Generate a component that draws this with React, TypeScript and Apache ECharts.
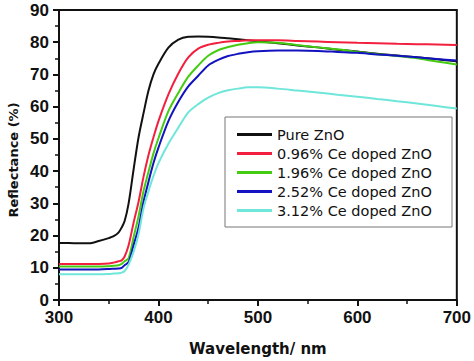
import React, { useEffect, useRef } from "react";
import * as echarts from "echarts";

const wavelengths = [300, 310, 320, 330, 340, 350, 355, 360, 363, 366, 370, 375, 380, 385, 390, 395, 400, 410, 420, 430, 440, 450, 460, 470, 480, 490, 500, 520, 540, 560, 580, 600, 620, 640, 660, 680, 700];

const pureZnO = [17.7, 17.7, 17.6, 17.6, 18.3, 19.2, 19.8, 21.0, 22.5, 24.5, 30.0, 40.5, 50.5, 58.0, 65.0, 70.0, 73.3, 78.3, 80.8, 81.7, 81.8, 81.7, 81.5, 81.2, 80.9, 80.6, 80.3, 79.7, 79.0, 78.4, 77.7, 77.1, 76.4, 75.9, 75.3, 74.7, 74.1];
const ce096 = [11.2, 11.2, 11.2, 11.2, 11.2, 11.3, 11.6, 12.0, 12.3, 13.5, 17.0, 24.0, 30.5, 38.3, 45.0, 50.5, 55.5, 63.8, 70.3, 75.3, 78.0, 79.2, 79.8, 80.2, 80.4, 80.6, 80.6, 80.6, 80.4, 80.2, 80.0, 79.8, 79.7, 79.5, 79.4, 79.3, 79.1];
const ce196 = [10.4, 10.4, 10.4, 10.4, 10.4, 10.5, 10.6, 10.8, 11.2, 12.0, 13.0, 19.5, 26.0, 33.8, 39.8, 45.5, 50.2, 58.6, 64.3, 69.3, 72.8, 75.8, 77.5, 78.5, 79.2, 79.7, 80.0, 79.8, 79.1, 78.4, 77.8, 77.0, 76.3, 75.7, 75.0, 74.0, 73.1];
const ce252 = [9.5, 9.5, 9.5, 9.5, 9.5, 9.6, 9.7, 9.8, 10.0, 10.8, 11.8, 17.0, 22.5, 30.5, 36.7, 42.5, 47.3, 55.5, 61.5, 66.3, 69.6, 72.8, 74.5, 75.7, 76.4, 76.9, 77.2, 77.4, 77.4, 77.3, 77.0, 76.7, 76.2, 75.8, 75.3, 74.8, 74.3];
const ce312 = [8.0, 8.0, 8.0, 8.0, 8.0, 8.1, 8.2, 8.3, 8.5, 9.0, 11.0, 15.0, 20.5, 28.5, 33.8, 38.5, 42.5, 48.5, 53.5, 58.2, 60.8, 62.8, 64.2, 65.1, 65.6, 66.0, 66.0, 65.6, 65.0, 64.4, 63.7, 63.1, 62.4, 61.7, 61.0, 60.2, 59.4];

const seriesNames = ["Pure ZnO", "0.96% Ce doped ZnO", "1.96% Ce doped ZnO", "2.52% Ce doped ZnO", "3.12% Ce doped ZnO"];
const seriesValues = [pureZnO, ce096, ce196, ce252, ce312];
const seriesColors = ["#111111", "#f2203e", "#44cc11", "#1212c0", "#6fe6da"];

const xTicks = [300, 400, 500, 600, 700];
const yTicks = [0, 10, 20, 30, 40, 50, 60, 70, 80, 90];

export default function App() {
  const ref = useRef<HTMLDivElement>(null);
  useEffect(() => {
    if (!ref.current) return;
    const chart = echarts.init(ref.current, undefined, { renderer: "svg" });
    const axisCommon = {
      axisLine: { show: true, onZero: false, lineStyle: { color: "#111", width: 2 } },
      axisTick: { show: true, inside: false, length: 6, lineStyle: { color: "#111", width: 2 } },
      minorTick: { show: true, splitNumber: 2, length: 4, lineStyle: { color: "#111", width: 1.5 } },
      splitLine: { show: false },
      axisLabel: {
        color: "#111",
        fontFamily: "Liberation Sans, Arial, sans-serif",
        fontWeight: "bold",
        fontSize: 17,
      },
    };
    chart.setOption({
      animation: false,
      backgroundColor: "#fff",
      grid: {
        left: 59,
        top: 10,
        right: 16,
        bottom: 58,
        show: true,
        borderColor: "#111",
        borderWidth: 2,
        containLabel: false,
      },
      xAxis: {
        type: "value",
        min: xTicks[0],
        max: xTicks[xTicks.length - 1],
        interval: 100,
        ...axisCommon,
        axisLabel: { ...axisCommon.axisLabel, margin: 9 },
        name: "Wavelength/ nm",
        nameLocation: "middle",
        nameGap: 41,
        nameTextStyle: {
          color: "#111",
          fontFamily: "DejaVu Sans, sans-serif",
          fontWeight: "bold",
          fontSize: 15,
          verticalAlign: "top",
        },
      },
      yAxis: {
        type: "value",
        min: yTicks[0],
        max: yTicks[yTicks.length - 1],
        interval: 10,
        ...axisCommon,
        axisLabel: { ...axisCommon.axisLabel, margin: 10 },
      },
      legend: {
        orient: "vertical",
        left: 225,
        top: 117,
        padding: [8, 14, 8, 12],
        itemGap: 0,
        itemWidth: 35,
        itemHeight: 3,
        icon: "rect",
        data: seriesNames,
        textStyle: {
          color: "#111",
          fontFamily: "DejaVu Sans, sans-serif",
          fontSize: 14.5,
          lineHeight: 19,
        },
      },
      graphic: [
        {
          type: "rect",
          shape: { x: 225, y: 117, width: 227, height: 110 },
          style: { fill: "none", stroke: "#777", lineWidth: 1 },
          z: 10,
        },
        {
          type: "text",
          x: 13,
          y: 160,
          rotation: Math.PI / 2,
          style: {
            text: "Reflectance (%)",
            fill: "#111",
            font: "bold 13px DejaVu Sans, sans-serif",
            align: "center",
            verticalAlign: "middle",
          },
        },
      ],
      series: seriesNames.map((name, i) => ({
        name,
        type: "line",
        data: wavelengths.map((w, j) => [w, seriesValues[i][j]]),
        showSymbol: false,
        smooth: 0.3,
        lineStyle: { color: seriesColors[i], width: 2 },
        itemStyle: { color: seriesColors[i] },
      })),
    });
    return () => chart.dispose();
  }, []);
  return <div ref={ref} style={{ width: 474, height: 361, position: "absolute", left: 0, top: 0 }} />;
}
